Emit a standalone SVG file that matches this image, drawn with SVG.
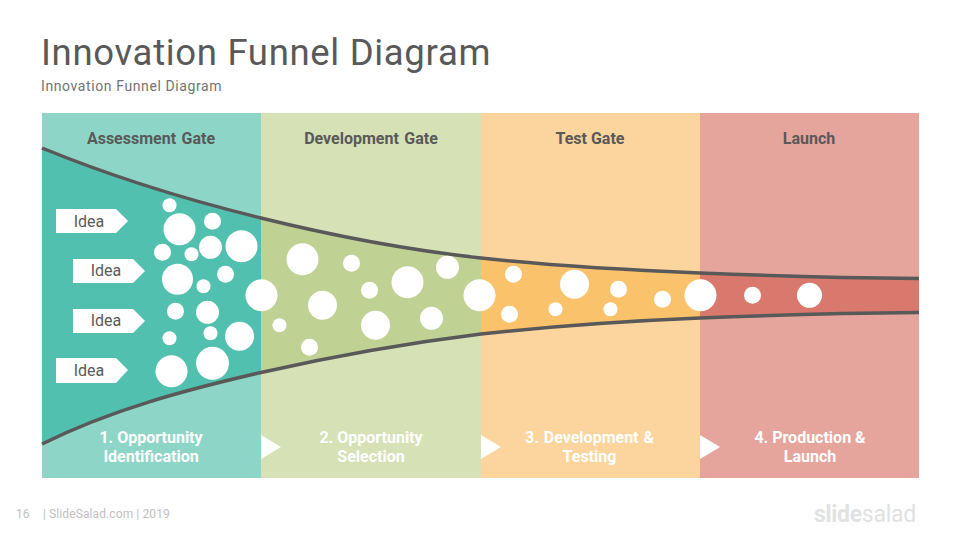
<svg xmlns="http://www.w3.org/2000/svg" width="960" height="540" viewBox="0 0 960 540">
<style>
text{font-family:Roboto,"Liberation Sans",sans-serif}
.h{font-size:16px;font-weight:700;fill:#595959;text-anchor:middle}
.b{font-size:16px;font-weight:700;fill:#fff;text-anchor:middle}
.i{font-size:16px;fill:#595959;text-anchor:middle}
.e{fill:none;stroke:#595959;stroke-width:3.5}
circle,.w{fill:#fff}
</style>
<defs>
<path id="f" d="M42 148C115 178 188 200 261 218C334 236 408 250 481 258C554 266 627 270 700 273C773 276 846 278 919 278.5V312.5C846 313 773 315 700 318C627 321 554 326 481 334C408 343 334 356 261 372.5C185 390 110 410 42 444Z"/>
<clipPath id="c1"><rect x="42" y="113" width="220" height="365"/></clipPath>
<clipPath id="c2"><rect x="261" y="113" width="221" height="365"/></clipPath>
<clipPath id="c3"><rect x="481" y="113" width="220" height="365"/></clipPath>
<clipPath id="c4"><rect x="700" y="113" width="219" height="365"/></clipPath>
</defs>
<rect width="960" height="540" fill="#fff"/>
<text x="41" y="65" font-size="36.5" fill="#595959" letter-spacing=".68">Innovation Funnel Diagram</text>
<text x="41" y="91" font-size="14" fill="#737373" letter-spacing=".6">Innovation Funnel Diagram</text>
<g id="stage1">
<rect x="42" y="113" width="219" height="365" fill="#8dd6c7"/>
<use href="#f" fill="#52c0ae" clip-path="url(#c1)"/>
<text class="h" x="151" y="144" word-spacing="1.5">Assessment Gate</text>
<text class="b" x="151" y="443">1. Opportunity</text>
<text class="b" x="151" y="462">Identification</text>
</g>
<g id="stage2">
<rect x="261" y="113" width="220" height="365" fill="#d6e1b6"/>
<use href="#f" fill="#bfd193" clip-path="url(#c2)"/>
<text class="h" x="371" y="144" word-spacing="1.5">Development Gate</text>
<text class="b" x="371" y="443">2. Opportunity</text>
<text class="b" x="371" y="462">Selection</text>
</g>
<g id="stage3">
<rect x="481" y="113" width="219" height="365" fill="#fbd59d"/>
<use href="#f" fill="#f9c26b" clip-path="url(#c3)"/>
<text class="h" x="590" y="144">Test Gate</text>
<text class="b" x="589.5" y="443" word-spacing="1">3. Development &amp;</text>
<text class="b" x="589.5" y="462">Testing</text>
</g>
<g id="stage4">
<rect x="700" y="113" width="219" height="365" fill="#e5a59c"/>
<use href="#f" fill="#d9796d" clip-path="url(#c4)"/>
<text class="h" x="809" y="144">Launch</text>
<text class="b" x="810" y="443">4. Production &amp;</text>
<text class="b" x="810" y="462">Launch</text>
</g>
<g id="connectors">
<path class="e" d="M42 148C115 178 188 200 261 218C334 236 408 250 481 258C554 266 627 270 700 273C773 276 846 278 919 278.5"/>
<path class="e" d="M42 444C110 410 185 390 261 372.5C334 356 408 343 481 334C554 326 627 321 700 318C773 315 846 313 919 312.5"/>
<polygon class="w" points="261,435 281,447 261,459"/>
<polygon class="w" points="481,435 501,447 481,459"/>
<polygon class="w" points="700,435 720,447 700,459"/>
</g>
<g id="idea1"><polygon class="w" points="56,209 116,209 128,221 116,233 56,233"/><text class="i" x="89" y="227">Idea</text></g>
<g id="idea2"><polygon class="w" points="73,259 133,259 145,271 133,283 73,283"/><text class="i" x="106" y="276">Idea</text></g>
<g id="idea3"><polygon class="w" points="73,309 133,309 145,321 133,333 73,333"/><text class="i" x="106" y="326">Idea</text></g>
<g id="idea4"><polygon class="w" points="56,358 116,358 128,370 116,383 56,383"/><text class="i" x="89" y="376">Idea</text></g>
<g id="bubbles" transform="translate(.5 .3)">
<circle cx="169" cy="205" r="7"/><circle cx="179" cy="229" r="16"/><circle cx="212" cy="221" r="8.5"/><circle cx="241" cy="246" r="16"/><circle cx="210" cy="247" r="11.5"/><circle cx="162" cy="252" r="8.5"/><circle cx="191" cy="254" r="7"/><circle cx="177" cy="279" r="15.5"/><circle cx="225" cy="274" r="8.5"/><circle cx="203" cy="286" r="7"/><circle cx="261" cy="295" r="16"/><circle cx="175" cy="311" r="8.5"/><circle cx="207" cy="312" r="11.5"/><circle cx="239" cy="336" r="14.5"/><circle cx="210" cy="333" r="7"/><circle cx="169" cy="338" r="7"/><circle cx="171" cy="371" r="16"/><circle cx="212" cy="363" r="16.5"/>
<circle cx="302" cy="259" r="16"/><circle cx="351" cy="263" r="8.5"/><circle cx="369" cy="290" r="8.5"/><circle cx="407" cy="282" r="16"/><circle cx="447" cy="267" r="11.5"/><circle cx="322" cy="305" r="14.5"/><circle cx="279" cy="325" r="7"/><circle cx="375" cy="325" r="14.5"/><circle cx="431" cy="318" r="11.5"/><circle cx="309" cy="347" r="8.5"/><circle cx="479" cy="295" r="16"/>
<circle cx="513" cy="274" r="8.5"/><circle cx="574" cy="284" r="14.5"/><circle cx="618" cy="289" r="8.5"/><circle cx="509" cy="314" r="8.5"/><circle cx="555" cy="309" r="7"/><circle cx="610" cy="309" r="7"/><circle cx="662" cy="299" r="8.5"/><circle cx="700" cy="295" r="16"/>
<circle cx="752" cy="295" r="8.5"/><circle cx="809" cy="295" r="12.5"/>
</g>
<text x="16" y="518" font-size="12" fill="#bfbfbf">16</text>
<text x="43" y="518" font-size="12" fill="#bfbfbf" letter-spacing=".1">| SlideSalad.com | 2019</text>
<text x="814" y="522" font-size="23" font-weight="700" fill="#e2e2e2" font-family="Open Sans" letter-spacing="-.3">slide<tspan font-weight="400">salad</tspan></text>
</svg>
